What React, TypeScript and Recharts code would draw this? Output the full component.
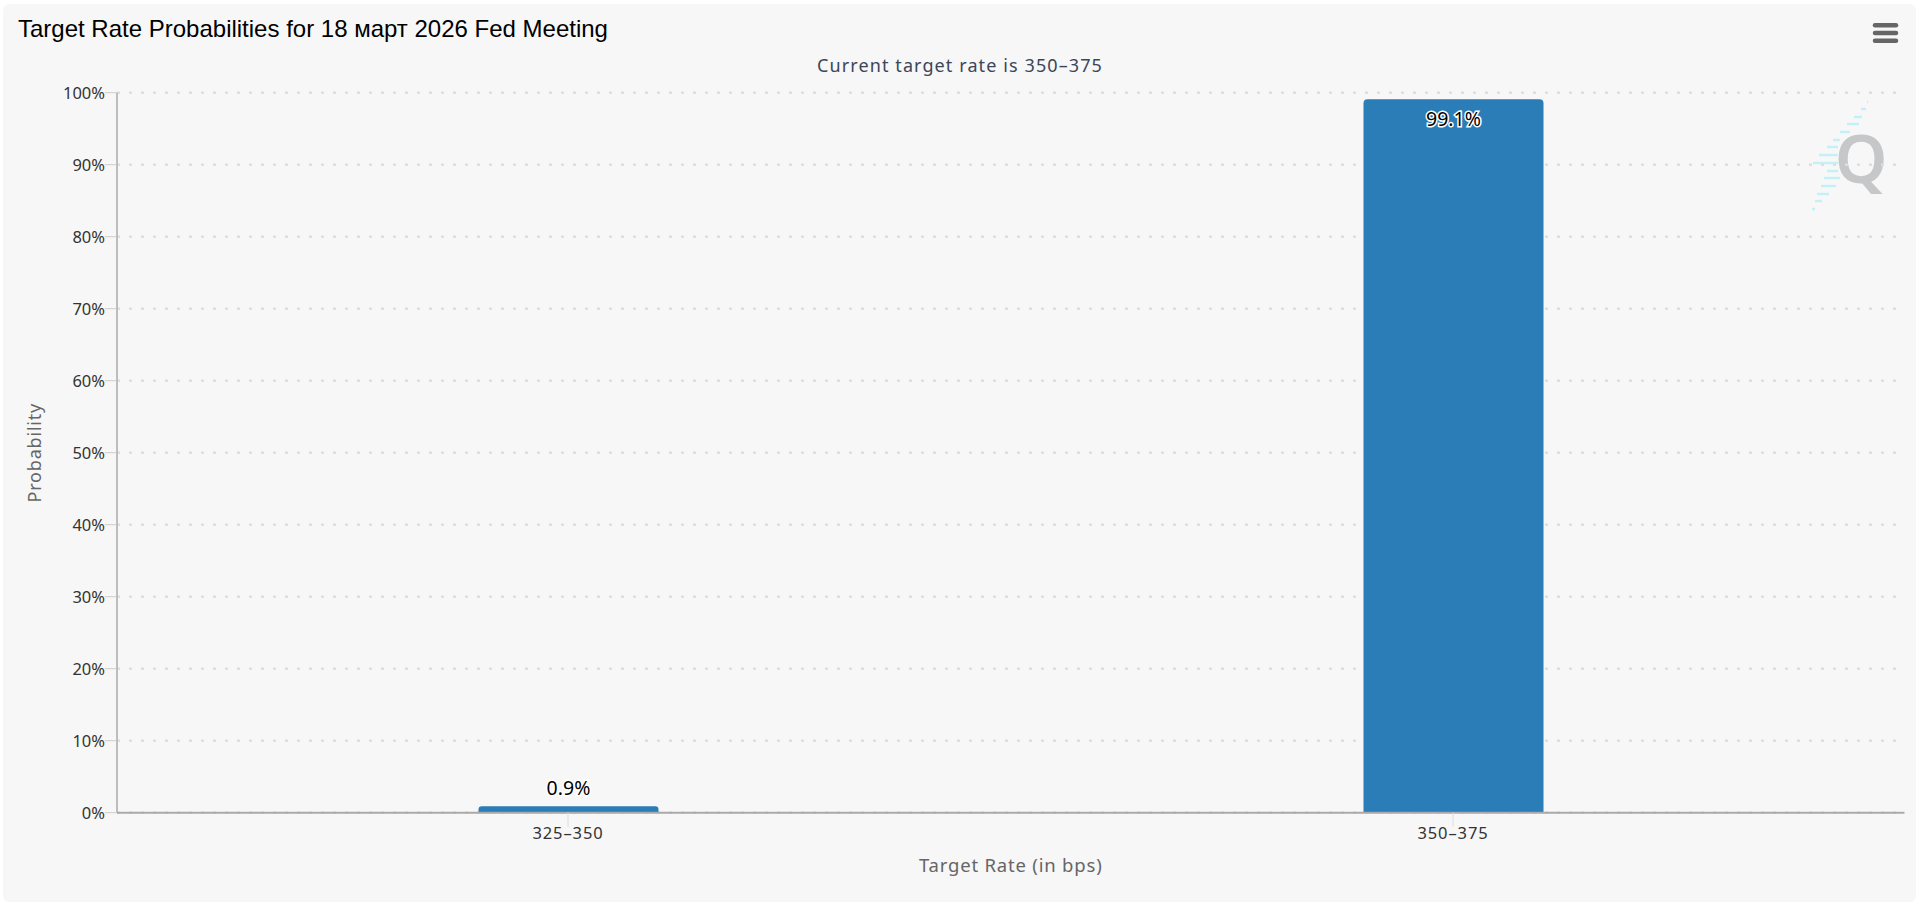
import { Bar, BarChart, CartesianGrid, LabelList, XAxis, YAxis } from "recharts";

const rates = ["325–350", "350–375"];
const probabilities = [0.9, 99.1];
const percentTicks = [0, 10, 20, 30, 40, 50, 60, 70, 80, 90, 100];

const data = rates.map((rate, i) => ({ rate, probability: probabilities[i] }));

const FONT = '"Noto Sans", sans-serif';

const WIDTH = 1919;
const HEIGHT = 906;

// [y, x1, x2] of the cyan streaks behind the Q
const streaks = [
  [102, 1867, 1868],
  [109, 1861, 1866],
  [117, 1854, 1862],
  [124, 1847, 1859],
  [132, 1840, 1850],
  [140, 1833, 1840],
  [147, 1827, 1838],
  [155, 1819, 1838],
  [163, 1813, 1838],
  [171, 1827, 1838],
  [178, 1824, 1840],
  [186, 1821, 1836],
  [194, 1817, 1829],
  [201, 1815, 1822],
  [209, 1812, 1815],
];

function Watermark() {
  return (
    <svg width={WIDTH} height={HEIGHT} style={{ position: "absolute", left: 0, top: 0 }}>
      {streaks.map(([y, x1, x2]) => (
        <line
          key={y}
          x1={x1}
          x2={x2}
          y1={y}
          y2={y}
          stroke="#c4f0f7"
          strokeWidth={2.5}
        />
      ))}
      <text
        x={1861}
        y={183}
        textAnchor="middle"
        fontFamily={FONT}
        fontSize={67}
        fontWeight={600}
        fill="#c6c7c8"
      >
        Q
      </text>
    </svg>
  );
}

function MenuIcon() {
  return (
    <svg width={WIDTH} height={HEIGHT} style={{ position: "absolute", left: 0, top: 0 }}>
      {[25.3, 33, 40.7].map((y) => (
        <line
          key={y}
          x1={1875}
          x2={1896}
          y1={y}
          y2={y}
          stroke="#666"
          strokeWidth={4.5}
          strokeLinecap="round"
        />
      ))}
    </svg>
  );
}

/* eslint-disable @typescript-eslint/no-explicit-any */
function BarValue({ x, y, width, value }: any) {
  const inside = value > 50;
  return (
    <text
      x={x + width / 2}
      y={inside ? y + 27 : y - 11}
      textAnchor="middle"
      fontFamily={FONT}
      fontSize={19.5}
      fill="#000"
      stroke="#fff"
      strokeWidth={3}
      paintOrder="stroke"
    >
      {value}%
    </text>
  );
}
/* eslint-enable @typescript-eslint/no-explicit-any */

export default function App() {
  return (
    <div
      style={{
        position: "fixed",
        left: 0,
        top: 0,
        width: WIDTH,
        height: HEIGHT,
        background: "#fff",
        overflow: "hidden",
      }}
    >
      <div
        style={{
          position: "absolute",
          left: 3,
          top: 4,
          width: 1913,
          height: 898,
          background: "#f7f7f7",
          borderRadius: 6,
        }}
      />
      <Watermark />
      <div
        style={{
          position: "absolute",
          left: 18,
          top: 15,
          font: "24px 'Liberation Sans', Arial, sans-serif",
          color: "#000",
          whiteSpace: "nowrap",
        }}
      >
        Target Rate Probabilities for 18 март 2026 Fed Meeting
      </div>
      <div
        style={{
          position: "absolute",
          left: 0,
          width: 1920,
          top: 53,
          textAlign: "center",
          fontFamily: FONT,
          fontSize: 18,
          letterSpacing: 1.1,
          color: "#3b4659",
        }}
      >
        Current target rate is 350–375
      </div>
      <MenuIcon />
      <div style={{ position: "absolute", left: 0, top: 0 }}>
        <BarChart
          width={WIDTH}
          height={HEIGHT}
          data={data}
          margin={{ top: 92.7, right: 14.5, bottom: 0, left: 0 }}
        >
          <CartesianGrid
            vertical={false}
            stroke="#dedede"
            strokeWidth={2.5}
            strokeDasharray="3 9"
          />
          <XAxis
            dataKey="rate"
            height={93.3}
            padding={{ left: 8.5, right: 9 }}
            tick={{ fontFamily: FONT, fontSize: 16.5, fill: "#333", letterSpacing: 0.9 }}
            tickLine={{ stroke: "#ddd", strokeWidth: 1 }}
            tickSize={14}
            tickMargin={1}
            axisLine={{ stroke: "#aaa", strokeWidth: 2 }}
            label={{
              value: "Target Rate (in bps)",
              position: "insideBottom",
              offset: 34,
              fontFamily: FONT,
              fontSize: 18.5,
              letterSpacing: 0.8,
              fill: "#666",
            }}
          />
          <YAxis
            width={117}
            domain={[0, 100]}
            ticks={percentTicks}
            interval={0}
            tickFormatter={(v) => `${v}%`}
            tick={{ fontFamily: FONT, fontSize: 16.5, fill: "#333" }}
            tickLine={{ stroke: "#ccc", strokeWidth: 1 }}
            tickSize={12}
            tickMargin={0}
            axisLine={{ stroke: "#aaa", strokeWidth: 1.5 }}
            label={{
              value: "Probability",
              angle: -90,
              position: "insideLeft",
              offset: 0,
              dx: 35,
              fontFamily: FONT,
              fontSize: 18,
              letterSpacing: 0.8,
              fill: "#666",
              style: { textAnchor: "middle" },
            }}
          />
          <Bar
            dataKey="probability"
            barSize={180}
            fill="#2a7db7"
            radius={[4, 4, 0, 0]}
            isAnimationActive={false}
          >
            <LabelList dataKey="probability" content={<BarValue />} />
          </Bar>
        </BarChart>
      </div>
    </div>
  );
}
